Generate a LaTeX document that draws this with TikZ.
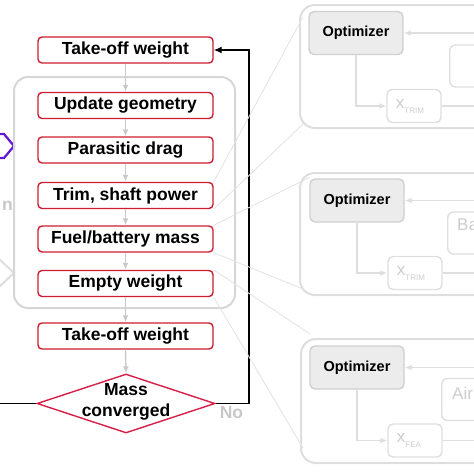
\documentclass[tikz,border=0pt]{standalone}
\usepackage{fontspec}
\setmainfont{Liberation Sans}
\usetikzlibrary{shapes.geometric,arrows.meta}
\definecolor{boxred}{RGB}{204,30,48}
\definecolor{decred}{RGB}{214,30,70}
\definecolor{flowgray}{RGB}{200,200,200}
\definecolor{contgray}{RGB}{214,214,214}
\definecolor{ghost}{RGB}{222,222,222}
\definecolor{ghosttxt}{RGB}{205,205,205}
\definecolor{optfill}{RGB}{236,236,236}
\definecolor{optdraw}{RGB}{208,208,208}
\definecolor{zoomgray}{RGB}{228,228,228}
\definecolor{purp}{RGB}{100,20,210}
\begin{document}
\begin{tikzpicture}[x=1pt,y=-1pt,
  stepbox/.style={draw=boxred, line width=1.4pt, rounded corners=4pt, fill=white,
    minimum width=175pt, minimum height=26pt, inner sep=0pt,
    font=\fontsize{17.5}{20}\selectfont\bfseries},
  decbox/.style={diamond, draw=decred, line width=1.4pt, minimum width=178pt,
    minimum height=59pt, inner sep=0pt},
  dectext/.style={align=center, inner sep=0pt, font=\fontsize{17.5}{20.5}\selectfont\bfseries},
  container/.style={draw=contgray, line width=2pt, rounded corners=14pt, inner sep=0pt},
  panel/.style={draw=ghost, line width=2pt, rounded corners=15pt, inner sep=0pt},
  optbox/.style={draw=optdraw, fill=optfill, line width=1.4pt, rounded corners=5pt,
    minimum width=94pt, minimum height=43pt, inner sep=0pt,
    font=\fontsize{14.5}{16}\selectfont\bfseries},
  xbox/.style={draw=ghost, line width=1.4pt, rounded corners=5pt, minimum width=54pt,
    minimum height=33pt, inner sep=0pt, text=ghosttxt},
  innerbox/.style={draw=ghost, line width=1.4pt, rounded corners=6pt, minimum height=42pt,
    minimum width=120pt, inner sep=0pt},
  ghostlabel/.style={text=ghosttxt, inner sep=0pt, font=\fontsize{17}{17}\selectfont},
  flow/.style={draw=flowgray, line width=1.4pt, -{Latex[length=7pt,width=6pt]}},
  pflow/.style={draw=ghost, line width=1.4pt, -{Latex[length=7pt,width=6pt]}},
  pline/.style={draw=ghost, line width=1.4pt},
  fb/.style={draw=black, line width=1.4pt},
  fbarrow/.style={draw=black, line width=1.4pt, -{Latex[length=8pt,width=7pt]}},
  zoomline/.style={draw=zoomgray, line width=0.9pt},
  greytext/.style={text=flowgray, inner sep=0pt, font=\fontsize{17.5}{20}\selectfont\bfseries}
]
\useasboundingbox (0,0) rectangle (474,474);
\clip (0,0) rectangle (474,474);

% left partial elements
\draw[purp, line width=2.2pt, line join=miter] (-1,134) -- (4,134) -- (14,146) -- (4,158) -- (-1,158);
\draw[ghost, line width=2pt] (-1,259) -- (14,273) -- (-1,287);
\node[greytext] (ntext) at (7.5,206) {n};

% main container
\node[container, minimum width=221pt, minimum height=231pt] (mainbox) at (124.5,192.5) {};

% main steps
\node[stepbox] (tow1) at (125.5,50) {Take-off weight};
\node[stepbox] (upd) at (125.5,105.5) {Update geometry};
\node[stepbox] (par) at (125.5,150) {Parasitic drag};
\node[stepbox] (trim) at (125.5,195.5) {Trim, shaft power};
\node[stepbox] (fuel) at (125.5,239) {Fuel/battery mass};
\node[stepbox] (empty) at (125.5,283.5) {Empty weight};
\node[stepbox] (tow2) at (125.5,336) {Take-off weight};
\node[decbox] (dec) at (126,403.5) {};
\node[dectext] (dect) at (126,402) {Mass\\converged};

\draw[flow] (tow1.south) -- (upd.north);
\draw[flow] (upd.south) -- (par.north);
\draw[flow] (par.south) -- (trim.north);
\draw[flow] (trim.south) -- (fuel.north);
\draw[flow] (fuel.south) -- (empty.north);
\draw[flow] (empty.south) -- (tow2.north);
\draw[flow] (tow2.south) -- (dec.north);

% feedback loop
\coordinate (fbx) at (249,0);
\coordinate (leftend) at (-2,0);
\draw[fbarrow] (dec.east) -- (dec.east -| fbx) |- (tow1.east);
\draw[fb] (dec.west) -- (dec.west -| leftend);
\node[greytext] (no) at (231.5,413) {No};

% right panels
\node[panel, minimum width=260pt, minimum height=123pt] (pan1) at (430,66.5) {};
\node[panel, minimum width=260pt, minimum height=122pt] (pan2) at (430,234) {};
\node[panel, minimum width=260pt, minimum height=124pt] (pan3) at (431,401) {};

\node[optbox] (opt1) at (356,33) {Optimizer};
\node[optbox] (opt2) at (357,200.5) {Optimizer};
\node[optbox] (opt3) at (357,367.5) {Optimizer};

\node[xbox] (x1) at (414,106) {};
\node[xbox] (x2) at (415,273) {};
\node[xbox] (x3) at (415,440.5) {};
\node[ghostlabel] (x1t) at (410,107) {x\raisebox{-5pt}{\fontsize{8}{8}\selectfont TRIM}};
\node[ghostlabel] (x2t) at (411,274) {x\raisebox{-5pt}{\fontsize{8}{8}\selectfont TRIM}};
\node[ghostlabel] (x3t) at (409,441) {x\raisebox{-5pt}{\fontsize{8}{8}\selectfont FEA}};

\node[innerbox, anchor=west] (in1) at (449,66) {};
\node[innerbox, anchor=west] (in2) at (447,233) {};
\node[innerbox, anchor=west] (in3) at (441,399.5) {};
\node[ghostlabel, anchor=west] (in2t) at (457,225) {Ba};
\node[ghostlabel, anchor=west] (in3t) at (452,393) {Air};

\coordinate (r1a) at (480,33);
\coordinate (r1b) at (480,106);
\coordinate (r2a) at (480,200.5);
\coordinate (r2b) at (480,273);
\coordinate (r3a) at (480,367.5);
\coordinate (r3b) at (480,440.5);
\draw[pflow] (r1a) -- (opt1.east);
\draw[pflow] (opt1.south) |- (x1.west);
\draw[pline] (x1.east) -- (r1b);
\draw[pflow] (r2a) -- (opt2.east);
\draw[pflow] (opt2.south) |- (x2.west);
\draw[pline] (x2.east) -- (r2b);
\draw[pflow] (r3a) -- (opt3.east);
\draw[pflow] (opt3.south) |- (x3.west);
\draw[pline] (x3.east) -- (r3b);

% zoom lines
\coordinate (z1a) at (303,17);
\coordinate (z1b) at (303,124);
\coordinate (z2a) at (310,177);
\coordinate (z2b) at (303,289);
\coordinate (z3a) at (310,334);
\coordinate (z3b) at (303,448);
\draw[zoomline] (trim.north east) -- (z1a);
\draw[zoomline] (trim.south east) -- (z1b);
\draw[zoomline] (fuel.north east) -- (z2a);
\draw[zoomline] (fuel.south east) -- (z2b);
\draw[zoomline] (empty.north east) -- (z3a);
\draw[zoomline] (empty.south east) -- (z3b);
\end{tikzpicture}
\end{document}
